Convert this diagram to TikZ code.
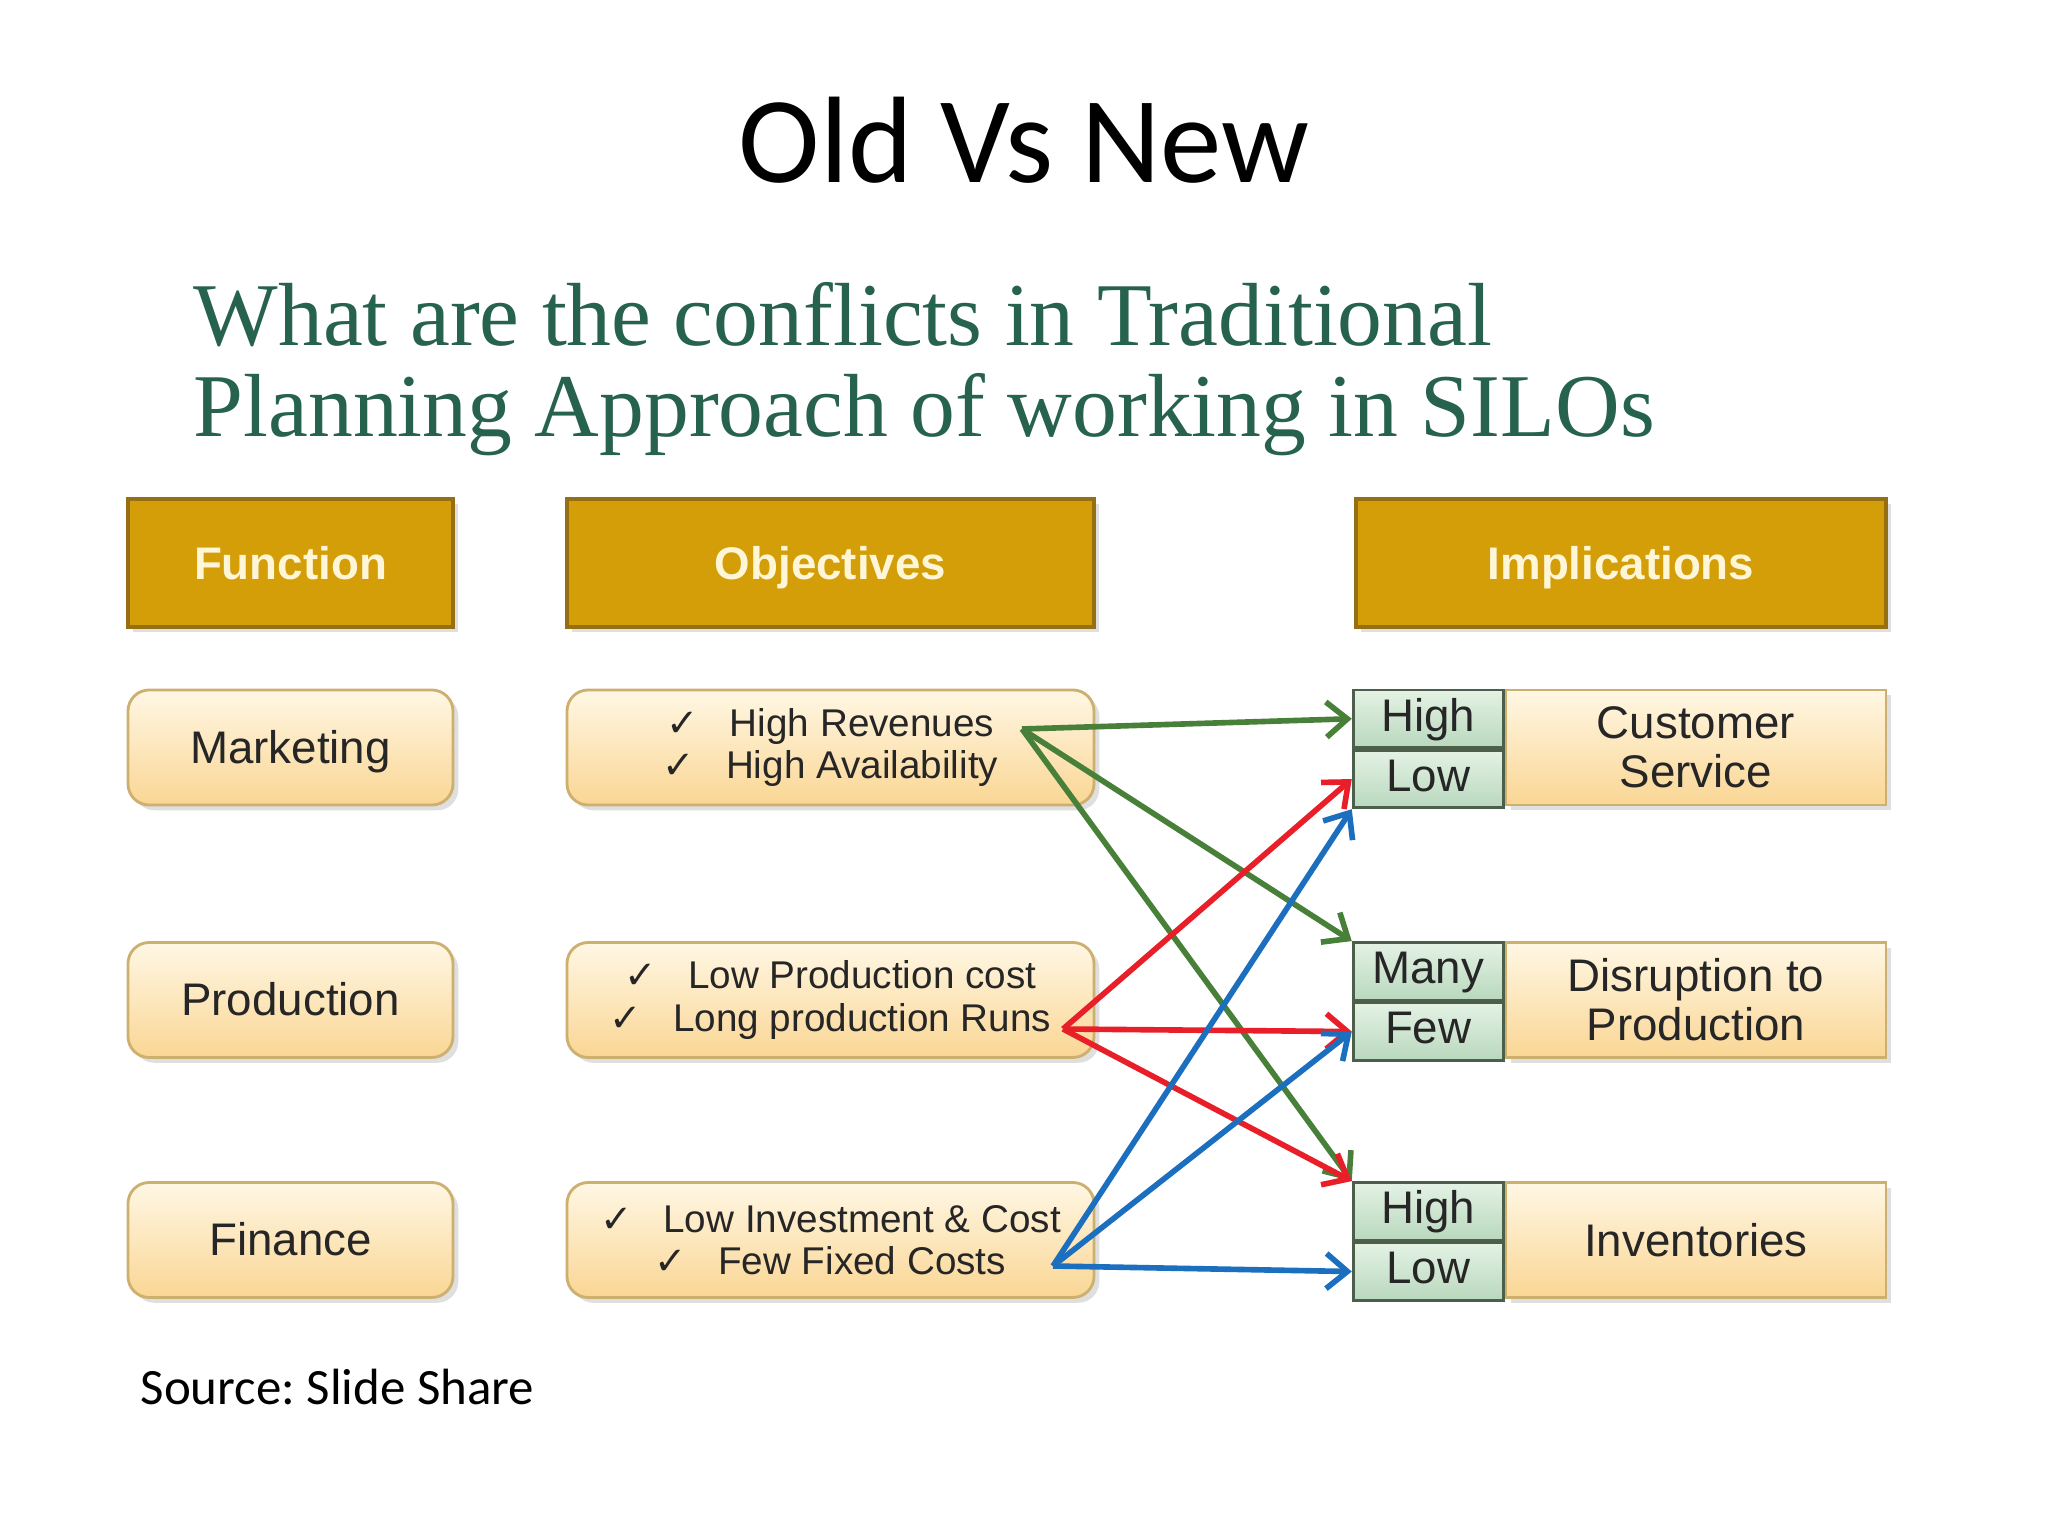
\documentclass[tikz,border=0pt]{standalone}
\usepackage{fontspec}
\setmainfont{Liberation Sans}
\newfontfamily\titlefont{Carlito}
\newfontfamily\questfont{Liberation Serif}
\newfontfamily\symfont{DejaVu Sans}
\usetikzlibrary{positioning,arrows.meta,shadows}
\definecolor{cgold}{RGB}{211,158,8}
\definecolor{cgoldline}{RGB}{150,110,20}
\definecolor{cheadtxt}{RGB}{255,246,215}
\definecolor{cpeachtop}{RGB}{255,247,228}
\definecolor{cpeachbot}{RGB}{250,214,148}
\definecolor{cpeachline}{RGB}{205,175,110}
\definecolor{cmintop}{RGB}{228,242,228}
\definecolor{cminbot}{RGB}{185,216,190}
\definecolor{cminline}{RGB}{75,95,75}
\definecolor{cquest}{RGB}{38,98,78}
\definecolor{cgreen}{RGB}{72,128,58}
\definecolor{cred}{RGB}{232,30,40}
\definecolor{cblue}{RGB}{28,110,190}
\newcommand{\chk}{{\symfont ✓}\hspace{0.8em}}
\frenchspacing

\begin{document}
\begin{tikzpicture}[
    head/.style={draw=cgoldline, fill=cgold, line width=1pt, minimum height=1.28cm,
                 text height=12pt, text depth=2.5pt,
                 font=\fontsize{13}{15}\selectfont\bfseries, text=cheadtxt,
                 drop shadow={shadow xshift=1.5pt, shadow yshift=-1.5pt, opacity=0.25}},
    rowbox/.style={draw=cpeachline, rounded corners=6pt, top color=cpeachtop, bottom color=cpeachbot,
                   line width=0.8pt, minimum height=1.15cm, align=center, text=black!85,
                   drop shadow={shadow xshift=1.5pt, shadow yshift=-1.5pt, opacity=0.25}},
    funbox/.style={rowbox, minimum width=3.25cm, text height=11.5pt, text depth=2.5pt,
                   font=\fontsize{13}{15}\selectfont},
    objbox/.style={rowbox, minimum width=5.27cm, font=\fontsize{11}{12}\selectfont},
    impbox/.style={rowbox, rounded corners=0pt, minimum width=3.8cm, font=\fontsize{13}{14}\selectfont},
    cell/.style={draw=cminline, top color=cmintop, bottom color=cminbot, line width=0.8pt,
                 minimum width=1.5cm, minimum height=0.575cm, inner sep=0pt,
                 text height=9.5pt, text depth=2.5pt,
                 font=\fontsize{13}{15}\selectfont, text=black!85},
    conn/.style={-{Straight Barb[length=6pt,width=10pt]}, line width=1.6pt},
  ]
  \useasboundingbox[fill=white] (0,0) rectangle (20.48,-15.36);

  % titles
  \node[anchor=base, inner sep=0pt] (title) at (10.24,-1.83) {\titlefont\fontsize{35}{40}\selectfont Old Vs New};
  \node[anchor=base west, inner sep=0pt, text=cquest] (quest1) at (1.93,-3.46)
    {\questfont\fontsize{25.5}{26}\selectfont What are the conflicts in Traditional};
  \node[anchor=base west, inner sep=0pt, text=cquest] (quest2) at (1.93,-4.37)
    {\questfont\fontsize{25.5}{26}\selectfont Planning Approach of working in SILOs};

  % column heads
  \node[head, minimum width=3.25cm] (hfun) at (2.905,-5.63) {Function};
  \node[head, minimum width=5.27cm] (hobj) at (8.305,-5.63) {Objectives};
  \node[head, minimum width=5.30cm] (himp) at (16.21,-5.63) {Implications};

  % functions
  \node[funbox] (mkt) at (2.905,-7.475) {Marketing};
  \node[funbox] (prod) at (2.905,-10.0) {Production};
  \node[funbox] (fin) at (2.905,-12.4) {Finance};

  % objectives
  \node[objbox] (omkt) at (8.305,-7.475) {\chk High Revenues\\\chk High Availability};
  \node[objbox] (oprod) at (8.305,-10.0) {\chk Low Production cost\\\chk Long production Runs};
  \node[objbox] (ofin) at (8.305,-12.4) {\chk Low Investment \& Cost\\\chk Few Fixed Costs};

  % implications
  \node[impbox] (cs) at (16.96,-7.475) {Customer\\Service};
  \node[cell, anchor=north east] (cshigh) at (cs.north west) {High};
  \node[cell, below=0pt of cshigh] (cslow) {Low};

  \node[impbox] (dp) at (16.96,-10.0) {Disruption to\\Production};
  \node[cell, anchor=north east] (dpmany) at (dp.north west) {Many};
  \node[cell, below=0pt of dpmany] (dpfew) {Few};

  \node[impbox] (inv) at (16.96,-12.4) {Inventories};
  \node[cell, anchor=north east] (invhigh) at (inv.north west) {High};
  \node[cell, below=0pt of invhigh] (invlow) {Low};

  % conflicts
  \coordinate (gsrc) at (10.22,-7.29);
  \coordinate (rsrc) at (10.63,-10.29);
  \coordinate (bsrc) at (10.53,-12.66);
  \draw[conn, cgreen] (gsrc) -- (cshigh.west);
  \draw[conn, cgreen] (gsrc) -- (dpmany.north west);
  \draw[conn, cgreen] (gsrc) -- (invhigh.north west);
  \draw[conn, cred] (rsrc) -- (cslow.west);
  \draw[conn, cred] (rsrc) -- (dpfew.west);
  \draw[conn, cred] (rsrc) -- (invhigh.north west);
  \draw[conn, cblue] (bsrc) -- (cslow.south west);
  \draw[conn, cblue] (bsrc) -- (dpfew.west);
  \draw[conn, cblue] (bsrc) -- (invlow.west);

  \node[anchor=base west, inner sep=0pt] (source) at (1.40,-14.04)
    {\titlefont\fontsize{14.5}{17}\selectfont Source: Slide Share};
\end{tikzpicture}
\end{document}
